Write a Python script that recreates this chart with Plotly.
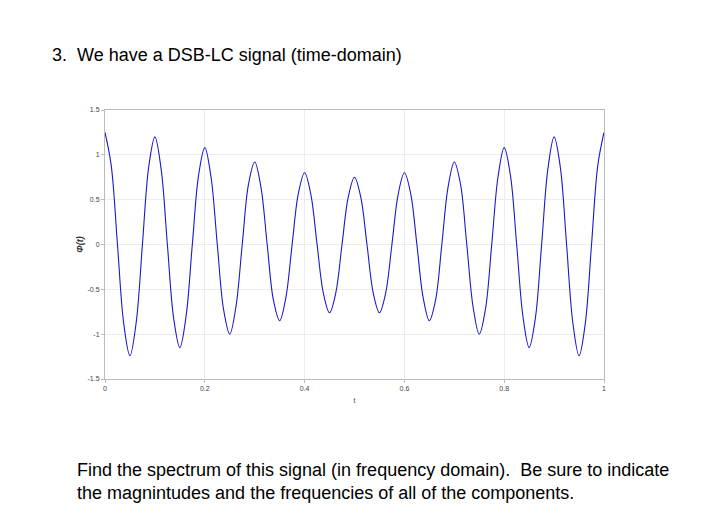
import plotly.graph_objects as go

# samples, every 0.0125 s
t = [k / 80 for k in range(81)]
phi_half = [1.25, 0.88, 0, -0.88, -1.24, -0.87, 0, 0.86, 1.20, 0.84, 0,
            -0.82, -1.15, -0.80, 0, 0.77, 1.08, 0.75, 0, -0.72, -1.00,
            -0.69, 0, 0.67, 0.92, 0.64, 0, -0.62, -0.85, -0.59, 0,
            0.57, 0.80, 0.56, 0, -0.54, -0.76, -0.54, 0, 0.53, 0.75]
phi = phi_half + phi_half[-2::-1]

x_ticks = [0, 0.2, 0.4, 0.6, 0.8, 1]
y_ticks = [-1.5, -1, -0.5, 0, 0.5, 1, 1.5]

fig = go.Figure()
fig.add_trace(go.Scatter(x=t, y=phi, mode="lines",
                         line=dict(color="#1a1acc", width=1.1, shape="spline", smoothing=1.0)))

axis_style = dict(showgrid=True, gridcolor="#ececec", zeroline=False, showline=True,
                  linecolor="#bbbbbb", mirror=True, ticks="outside", ticklen=3,
                  tickcolor="#bbbbbb", tickfont=dict(size=7, color="#444", family="Arial"))
fig.update_xaxes(range=[0, 1], tickvals=x_ticks, ticktext=["0", "0.2", "0.4", "0.6", "0.8", "1"],
                 title=dict(text="t", font=dict(size=7, color="#444"), standoff=6), **axis_style)
fig.update_yaxes(range=[-1.5, 1.5], tickvals=y_ticks,
                 ticktext=["-1.5", "-1", "-0.5", "0", "0.5", "1", "1.5"],
                 title=dict(text="<b><i>Φ(t)</i></b>", font=dict(size=9, color="#333"), standoff=2),
                 **axis_style)

fig.update_layout(
    width=728, height=530, showlegend=False,
    paper_bgcolor="white", plot_bgcolor="white",
    margin=dict(l=97, r=132, t=102, b=159),
    font=dict(family="Arial, Liberation Sans"),
)
fig.add_annotation(text="3.  We have a DSB-LC signal (time-domain)", xref="paper", yref="paper",
                   x=-0.110, y=1.204, xanchor="left", yanchor="middle", showarrow=False,
                   font=dict(size=18, color="black"))
fig.add_annotation(text="Find the spectrum of this signal (in frequency domain).  Be sure to indicate<br>"
                        "the magnintudes and the frequencies of all of the components.",
                   xref="paper", yref="paper", x=-0.060, y=-0.294, xanchor="left", yanchor="top",
                   align="left", showarrow=False, font=dict(size=18, color="black"))

fig.write_html("out.html")
